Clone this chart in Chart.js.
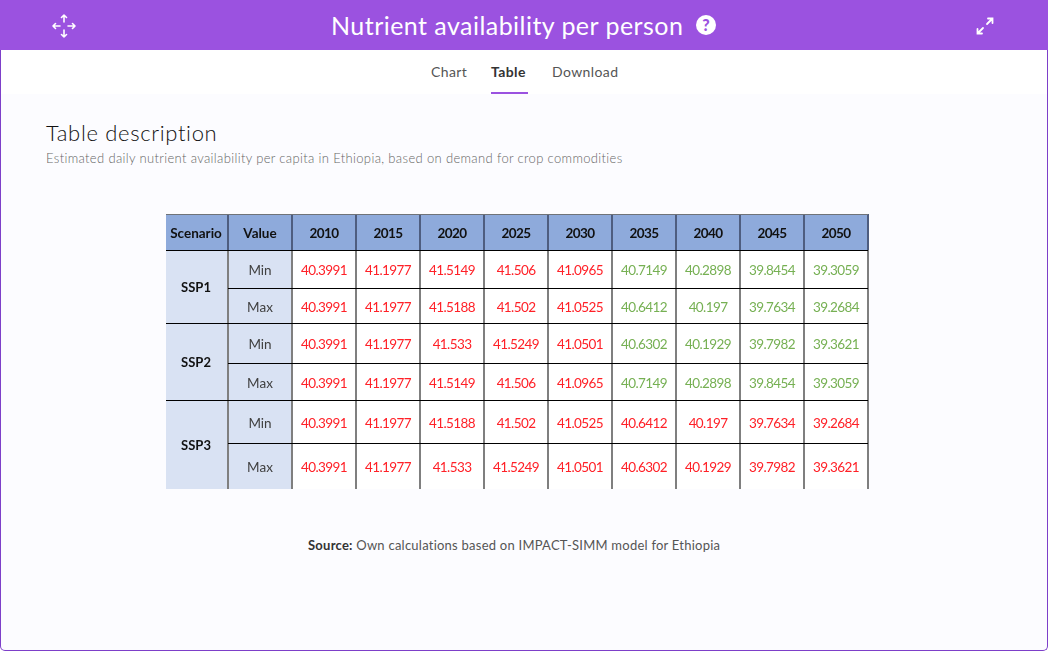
<!DOCTYPE html>
<html>
<head>
<meta charset="utf-8">
<title>Nutrient availability per person</title>
<script src="https://cdn.jsdelivr.net/npm/chart.js@4"></script>
<style>
  html, body { margin: 0; padding: 0; }
  body { width: 1048px; height: 651px; overflow: hidden; position: relative; background: #fff; font-family: Lato, sans-serif; }
  #frame { position: absolute; left: 0; top: 0; width: 1046px; height: 650px; border: 1px solid #7d3fc9; border-top: 0; border-radius: 0 0 5px 5px; background: #fcfcff; }
  #topbar { position: absolute; left: 0; top: 0; width: 1048px; height: 50px; background: #9b52e0; }
  #nav { position: absolute; left: 1px; top: 50px; width: 1046px; height: 44px; background: #fff; }
  #title { position: absolute; left: 331px; top: 10px; font-size: 25px; line-height: 30px; color: #fff; white-space: nowrap; letter-spacing: 0.46px; }
  #help { position: absolute; left: 696px; top: 15px; width: 20px; height: 20px; border-radius: 50%; background: #fff; color: #9b52e0; font-size: 16px; font-weight: 900; line-height: 20px; text-align: center; }
  .tab { position: absolute; top: 63px; font-size: 14px; line-height: 18px; color: #555; letter-spacing: 0.4px; white-space: nowrap; }
  #underline { position: absolute; left: 491px; top: 92px; width: 37px; height: 2px; background: #9b52e0; }
  #heading { position: absolute; left: 46px; top: 119px; font-size: 22px; line-height: 27px; color: #111; font-weight: 300; letter-spacing: 0.67px; white-space: nowrap; }
  #desc { position: absolute; left: 46px; top: 150px; font-size: 13px; line-height: 17px; color: #666; font-weight: 300; letter-spacing: 0.35px; white-space: nowrap; }
  #source { position: absolute; left: 308px; top: 537px; font-size: 13px; line-height: 17px; color: #555; letter-spacing: 0.24px; white-space: nowrap; }
  #source b { color: #333; }
  #tableChart { position: absolute; left: 164px; top: 214px; clip-path: inset(0 0 0 2px); }
  svg { position: absolute; }
</style>
</head>
<body>
<div id="frame"></div>
<div id="topbar"></div>
<div id="nav"></div>
<svg style="left:52px;top:14px" width="24" height="24" viewBox="0 0 24 24" fill="none" stroke="#fff" stroke-width="1.6" stroke-linecap="round" stroke-linejoin="round">
  <path d="M12 1v7M9.5 3.5 12 1l2.500 2.500M12 16v7M9.500 20.500 12 23l2.500-2.500M1 12h7M3.500 9.500 1 12l2.500 2.500M16 12h7M20.500 9.500 23 12l-2.500 2.500"/>
</svg>
<svg style="left:975px;top:16px" width="20" height="20" viewBox="0 0 20 20" fill="none" stroke="#fff" stroke-width="1.8" stroke-linecap="round">
  <path d="M12 8 17 3M13 2.500h4.500V7M8 12 3 17M7 17.500H2.500V13"/>
</svg>
<div id="title">Nutrient availability per person</div>
<div id="help">?</div>
<div class="tab" style="left:431px">Chart</div>
<div class="tab" style="left:491px;font-weight:700;color:#333">Table</div>
<div class="tab" style="left:552px">Download</div>
<div id="underline"></div>
<div id="heading">Table description</div>
<div id="desc">Estimated daily nutrient availability per capita in Ethiopia, based on demand for crop commodities</div>
<canvas id="tableChart" width="706" height="275"></canvas>
<div id="source"><b>Source:</b> Own calculations based on IMPACT-SIMM model for Ethiopia</div>

<script>
// Table contents
const columns = ["Scenario", "Value", "2010", "2015", "2020", "2025", "2030", "2035", "2040", "2045", "2050"];
const scenarios = ["SSP1", "SSP2", "SSP3"];
const ssp1Min = [40.3991, 41.1977, 41.5149, 41.506, 41.0965, 40.7149, 40.2898, 39.8454, 39.3059];
const ssp1Max = [40.3991, 41.1977, 41.5188, 41.502, 41.0525, 40.6412, 40.197, 39.7634, 39.2684];
const ssp2Min = [40.3991, 41.1977, 41.533, 41.5249, 41.0501, 40.6302, 40.1929, 39.7982, 39.3621];
const ssp2Max = [40.3991, 41.1977, 41.5149, 41.506, 41.0965, 40.7149, 40.2898, 39.8454, 39.3059];
const ssp3Min = [40.3991, 41.1977, 41.5188, 41.502, 41.0525, 40.6412, 40.197, 39.7634, 39.2684];
const ssp3Max = [40.3991, 41.1977, 41.533, 41.5249, 41.0501, 40.6302, 40.1929, 39.7982, 39.3621];

const rowLabels = ["Min", "Max", "Min", "Max", "Min", "Max"];
const rowValues = [ssp1Min, ssp1Max, ssp2Min, ssp2Max, ssp3Min, ssp3Max];
// number of leading columns shown in red, the rest are green
const redCounts = [5, 5, 5, 5, 9, 9];

// row edges on the y scale, header first
const rowEdges = [0, 36, 74, 109, 149, 186, 229, 275];

const RED = "#ff2027";
const GREEN = "#76b053";
const HEADER_BG = "#8eaadb";
const LABEL_BG = "#d9e2f3";

const datasets = [{
  label: "Header",
  data: columns.map(() => [rowEdges[0], rowEdges[1]]),
  backgroundColor: HEADER_BG,
  cellText: columns,
  cellColor: columns.map(() => "#111"),
  cellFont: "bold 13.5px Lato"
}];

rowValues.forEach((values, r) => {
  datasets.push({
    label: "Row " + r,
    data: columns.map(() => [rowEdges[r + 1], rowEdges[r + 2]]),
    backgroundColor: columns.map((c, i) => i < 2 ? LABEL_BG : "#fff"),
    cellText: ["", rowLabels[r]].concat(values.map(String)),
    cellColor: ["#111", "#404040"].concat(values.map((v, i) => i < redCounts[r] ? RED : GREEN)),
    cellFont: "13.5px Lato"
  });
});

// grid lines and cell text go on top of the bars
const tablePlugin = {
  id: "tablePlugin",
  afterDatasetsDraw(chart) {
    const ctx = chart.ctx;
    const x = chart.scales.x;
    const y = chart.scales.y;
    const colWidth = x.getPixelForValue(1) - x.getPixelForValue(0);
    const left = x.getPixelForValue(0) - colWidth / 2;
    const right = x.getPixelForValue(10) + colWidth / 2;

    ctx.save();
    // vertical lines
    ctx.lineWidth = 2;
    for (let i = 0; i < columns.length; i++) {
      const px = x.getPixelForValue(i) + colWidth / 2;
      ctx.strokeStyle = "#4e5d7f";
      ctx.beginPath();
      ctx.moveTo(px, y.getPixelForValue(rowEdges[0]));
      ctx.lineTo(px, y.getPixelForValue(rowEdges[1]));
      ctx.stroke();
      ctx.strokeStyle = "#7f7f7f";
      ctx.beginPath();
      ctx.moveTo(px, y.getPixelForValue(rowEdges[1]));
      ctx.lineTo(px, y.getPixelForValue(rowEdges[7]));
      ctx.stroke();
    }
    // top border
    ctx.lineWidth = 1;
    ctx.strokeStyle = "#6f7378";
    ctx.beginPath();
    ctx.moveTo(left, y.getPixelForValue(0) + 0.5);
    ctx.lineTo(right, y.getPixelForValue(0) + 0.5);
    ctx.stroke();
    // horizontal lines, the ones inside a scenario stop at its merged cell
    ctx.strokeStyle = "#000";
    for (let r = 1; r < 7; r++) {
      const py = y.getPixelForValue(rowEdges[r]) + 0.5;
      ctx.beginPath();
      ctx.moveTo(r % 2 === 1 ? left : left + colWidth, py);
      ctx.lineTo(right, py);
      ctx.stroke();
    }

    // cell text, numbers are set tighter because Lato digits run wide
    ctx.textAlign = "center";
    ctx.textBaseline = "middle";
    chart.data.datasets.forEach((ds, d) => {
      ctx.font = ds.cellFont;
      chart.getDatasetMeta(d).data.forEach((bar, i) => {
        if (!ds.cellText[i]) return;
        ctx.letterSpacing = i < 2 ? "0px" : "-0.6px";
        ctx.fillStyle = ds.cellColor[i];
        ctx.fillText(ds.cellText[i], bar.x, (bar.y + bar.base) / 2 + 2);
      });
    });
    // merged scenario cells
    ctx.letterSpacing = "0px";
    ctx.font = "bold 13px Lato";
    ctx.fillStyle = "#111";
    scenarios.forEach((name, s) => {
      const top = y.getPixelForValue(rowEdges[s * 2 + 1]);
      const bottom = y.getPixelForValue(rowEdges[s * 2 + 3]);
      ctx.fillText(name, x.getPixelForValue(0), (top + bottom) / 2 + 1);
    });
    ctx.restore();
  }
};

new Chart(document.getElementById("tableChart"), {
  type: "bar",
  data: { labels: columns, datasets: datasets },
  plugins: [tablePlugin],
  options: {
    responsive: false,
    animation: false,
    layout: { padding: { right: 2 } },
    datasets: { bar: { grouped: false, barPercentage: 1, categoryPercentage: 1, borderWidth: 0 } },
    plugins: { legend: { display: false }, tooltip: { enabled: false } },
    scales: {
      x: { display: false },
      y: { display: false, reverse: true, min: 0, max: 275 }
    }
  }
});
</script>
</body>
</html>
